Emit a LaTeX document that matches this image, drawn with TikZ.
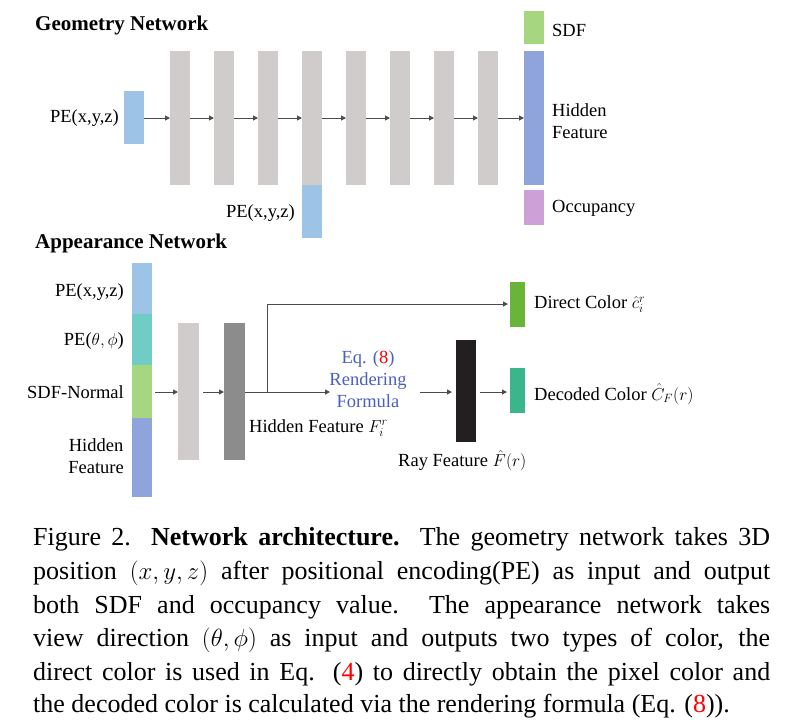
\documentclass[tikz,border=0pt]{standalone}
\usepackage{fontspec}
\setmainfont{Liberation Serif}
\usetikzlibrary{arrows.meta}
\definecolor{gbar}{HTML}{D0CCCC}
\definecolor{lblue}{HTML}{9DC3E6}
\definecolor{bblue}{HTML}{8EA4DA}
\definecolor{lgreen}{HTML}{A6D680}
\definecolor{lpurp}{HTML}{CDA0D8}
\definecolor{teal}{HTML}{6FCDC5}
\definecolor{dgray}{HTML}{8C8C8C}
\definecolor{blk}{HTML}{231F20}
\definecolor{dgreen}{HTML}{6AB43A}
\definecolor{tgreen}{HTML}{3BB58C}
\definecolor{eqblue}{HTML}{4A5FC1}
\begin{document}
\begin{tikzpicture}[x=1pt,y=-1pt,
 lab/.style={font=\fontsize{18.5}{21}\selectfont,inner sep=0},
 ttl/.style={anchor=west,inner sep=0,font=\fontsize{21}{24}\selectfont\bfseries},
 arr/.style={-{Triangle[length=5pt,width=5pt]},draw=black!70,line width=1pt},
 captxt/.style={anchor=base west,inner sep=0,font=\fontsize{26}{28}\selectfont}]
\useasboundingbox (0,0) rectangle (789,721);
\node[ttl] (gt) at (35,25) {Geometry Network};
\fill[lblue] (124,91) rectangle (144,144); \coordinate (in) at (144,118);
\node[lab,anchor=east] (pe1) at (119,118) {PE(x,y,z)};
\foreach \i in {0,...,7}{
 \pgfmathsetmacro\xx{170+44*\i}
 \fill[gbar] (\xx,51) rectangle (\xx+20,185);
 \coordinate (L\i) at (\xx,118); \coordinate (R\i) at (\xx+20,118);}
\draw[arr] (in) -- (L0);
\foreach \i [evaluate=\i as \j using int(\i+1)] in {0,...,6}{\draw[arr] (R\i) -- (L\j);}
\fill[lgreen] (524,11) rectangle (544,44);
\fill[bblue] (524,51) rectangle (544,185);
\fill[lpurp] (524,190) rectangle (544,225);
\coordinate (fin) at (524,118);
\draw[arr] (R7) -- (fin);
\fill[lblue] (302,185) rectangle (322,238);
\node[lab,anchor=east] (pe2) at (295,213) {PE(x,y,z)};
\node[lab,anchor=west] (sdf) at (552,30) {SDF};
\node[lab,anchor=west,align=left] (hf) at (552,121) {Hidden\\[1pt]Feature};
\node[lab,anchor=west] (occ) at (552,208) {Occupancy};
\node[ttl] (at) at (35,243) {Appearance Network};
% appearance
\fill[lblue] (132,263) rectangle (152,314);
\fill[teal] (132,314) rectangle (152,365);
\fill[lgreen] (132,365) rectangle (152,418);
\fill[bblue] (132,418) rectangle (152,497);
\node[lab,anchor=east] (a1) at (124,292) {PE(x,y,z)};
\node[lab,anchor=east] (a2) at (124,341) {PE($\theta,\phi$)};
\node[lab,anchor=east] (a3) at (124,392) {SDF-Normal};
\node[lab,anchor=east,align=center] (a4) at (124,456) {Hidden\\[1pt]Feature};
\fill[gbar] (178,323) rectangle (199,460);
\fill[dgray] (224,323) rectangle (245,460);
\coordinate (ao) at (155,392);
\draw[arr] (ao) -- (178,392);
\draw[arr] (203,392) -- (224,392);
\node[lab,text=eqblue,align=center] (eq) at (368,379) {Eq. (\textcolor{red}{8})\\[1pt]Rendering\\[1pt]Formula};
\draw[arr] (245,392) -- (330,392);
\draw[arr] (267,392) |- (508,304);
\fill[dgreen] (510,282) rectangle (525,327);
\node[lab,anchor=west] (dc) at (534,304) {Direct Color $\hat{c}_i^r$};
\draw[arr] (420,392) -- (452,392);
\fill[blk] (456,340) rectangle (476,442);
\draw[arr] (480,392) -- (507,392);
\fill[tgreen] (510,368) rectangle (525,413);
\node[lab,anchor=west] (dec) at (534,394) {Decoded Color $\hat{C}_F(r)$};
\node[lab,anchor=north west] (hfr) at (249,419) {Hidden Feature $F_i^r$};
\node[lab,anchor=north west] (rf) at (398,450) {Ray Feature $\hat{F}(r)$};
% caption
\node[captxt] (c1) at (33,545) {\makebox[737pt][s]{Figure 2. \textbf{Network architecture.} The geometry network takes 3D}};
\node[captxt] (c2) at (33,579) {\makebox[737pt][s]{position $(x,y,z)$ after positional encoding(PE) as input and output}};
\node[captxt] (c3) at (33,613) {\makebox[737pt][s]{both SDF and occupancy value.\ \ The appearance network takes}};
\node[captxt] (c4) at (33,646) {\makebox[737pt][s]{view direction $(\theta,\phi)$ as input and outputs two types of color, the}};
\node[captxt] (c5) at (33,680) {\makebox[737pt][s]{direct color is used in Eq. (\textcolor{red}{4}) to directly obtain the pixel color and}};
\node[captxt] (c6) at (33,712) {the decoded color is calculated via the rendering formula (Eq. (\textcolor{red}{8})).};
\end{tikzpicture}
\end{document}
